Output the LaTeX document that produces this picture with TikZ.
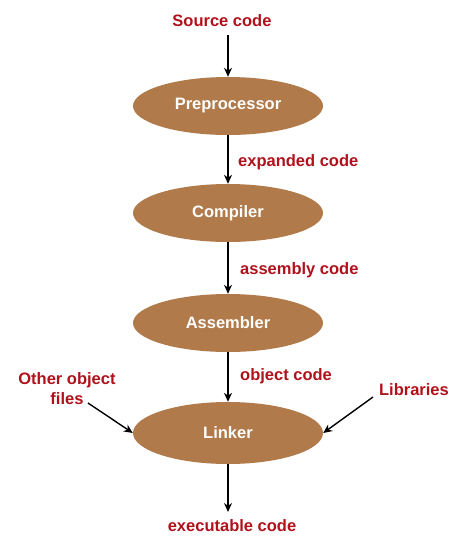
\documentclass[tikz,border=0pt]{standalone}
\usepackage{fontspec}
\setmainfont{Liberation Sans}
\usetikzlibrary{shapes.geometric,arrows.meta}
\definecolor{stagebrown}{RGB}{176,122,74}
\definecolor{labelred}{RGB}{176,18,28}
\begin{document}
\begin{tikzpicture}[x=1pt,y=-1pt,
  stage/.style={ellipse,fill=stagebrown,minimum width=190pt,minimum height=58pt,inner sep=0pt,text=white,font=\bfseries\fontsize{16.5}{19}\selectfont},
  lbl/.style={text=labelred,font=\bfseries\fontsize{16.5}{20}\selectfont,inner sep=0pt},
  arr/.style={line width=1.4pt,-{Stealth[length=9pt,width=8pt]}}]
\useasboundingbox (0,0) rectangle (458,550);
\node[stage] (pre) at (228,106) {Preprocessor};
\node[stage] (comp) at (228,213) {Compiler};
\node[stage] (asm) at (228,323) {Assembler};
\node[stage,minimum height=62pt] (link) at (228,433) {Linker};
\node[lbl] (src) at (222,21) {Source code};
\node[lbl,anchor=west] (exp) at (238,162) {expanded code};
\node[lbl,anchor=west] (asmc) at (240,270) {assembly code};
\node[lbl,anchor=west] (obj) at (240,376) {object code};
\node[lbl] (exe) at (232,526) {executable code};
\node[lbl,align=center] (other) at (67,389) {Other object\\files};
\node[lbl] (lib) at (414,390) {Libraries};
\coordinate (srcend) at (228,35);
\coordinate (exeend) at (228,512);
\coordinate (otherend) at (88,403);
\coordinate (libend) at (373,397);
\draw[arr] (srcend) -- (pre.north);
\draw[arr] (pre.south) -- (comp.north);
\draw[arr] (comp.south) -- (asm.north);
\draw[arr] (asm.south) -- (link.north);
\draw[arr] (link.south) -- (exeend);
\draw[arr] (otherend) -- (link.west);
\draw[arr] (libend) -- (link.east);
\end{tikzpicture}
\end{document}
